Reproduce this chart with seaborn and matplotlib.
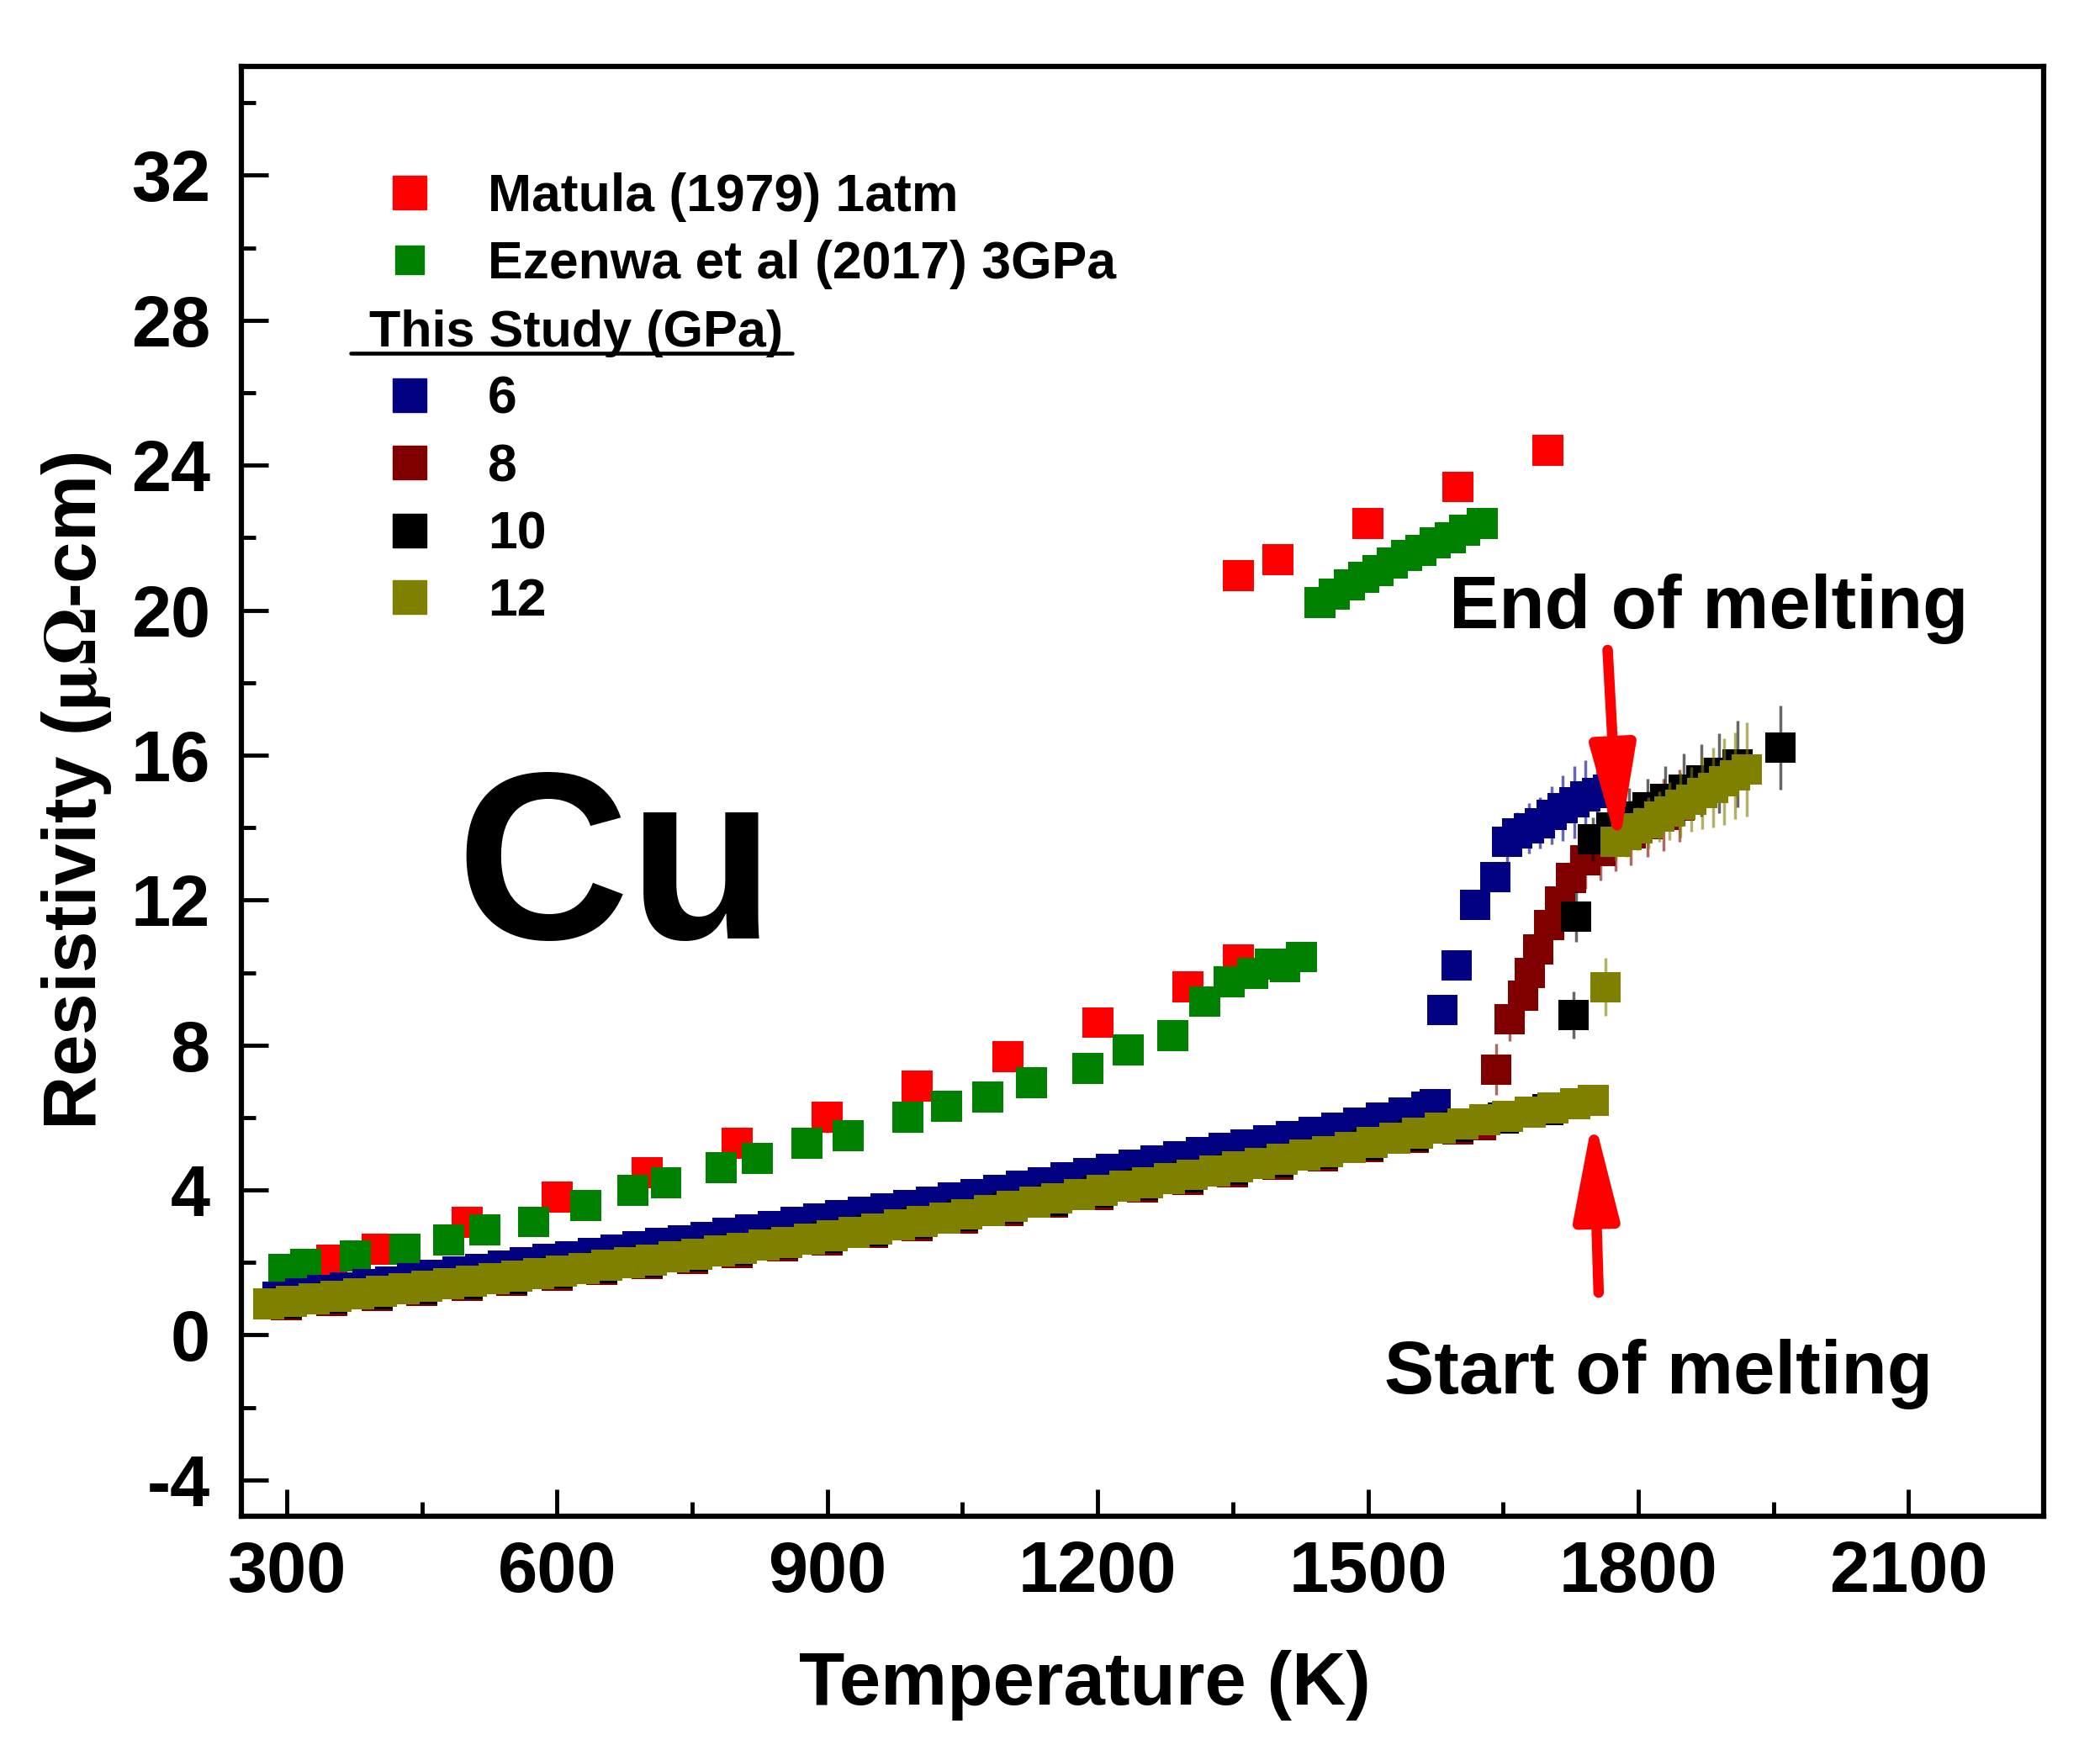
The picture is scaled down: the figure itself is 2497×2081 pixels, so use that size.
import matplotlib
matplotlib.use("Agg")
import matplotlib.pyplot as plt
from matplotlib.colors import to_rgba
from matplotlib.ticker import AutoMinorLocator
import seaborn as sns

# ---------------- data ----------------
# Matula (1979), 1 atm
matula_T_sol = [300, 350, 400, 500, 600, 700, 800, 900, 1000, 1100, 1200, 1300, 1356]
matula_r_sol = [1.80, 2.07, 2.37, 3.10, 3.80, 4.47, 5.28, 6.02, 6.87, 7.68, 8.62, 9.60, 10.36]
matula_T_liq = [1356, 1400, 1500, 1600, 1700]
matula_r_liq = [20.96, 21.40, 22.40, 23.40, 24.40]

# Ezenwa et al (2017), 3 GPa
ezenwa_T_sol = [297, 321, 376, 431, 480, 520, 574, 632, 684, 721, 782, 822, 877, 923,
                989, 1032, 1078, 1127, 1189, 1234, 1283, 1319, 1346, 1372, 1392, 1408, 1426]
ezenwa_r_sol = [1.81, 1.96, 2.18, 2.37, 2.62, 2.90, 3.12, 3.58, 4.00, 4.21, 4.62, 4.88, 5.28, 5.50,
                6.02, 6.31, 6.57, 6.97, 7.35, 7.86, 8.25, 9.20, 9.74, 9.97, 10.24, 10.17, 10.43]
ezenwa_T_liq = [1447, 1463, 1479, 1495, 1511, 1527, 1543, 1559, 1575, 1591, 1607, 1627]
ezenwa_r_liq = [20.20, 20.45, 20.70, 20.90, 21.10, 21.30, 21.50, 21.65, 21.85, 22.00, 22.20, 22.40]

# This study, 6 GPa
p6_T_sol = [290, 315, 340, 365, 390, 415, 440, 465, 490, 515, 540, 565, 590, 615, 640, 665, 690,
            715, 740, 765, 790, 815, 840, 865, 890, 915, 940, 965, 990, 1015, 1040, 1065, 1090,
            1115, 1140, 1165, 1190, 1215, 1240, 1265, 1290, 1315, 1340, 1365, 1390, 1415, 1440,
            1465, 1490, 1515, 1540, 1565, 1575]
p6_r_sol = [1.05, 1.13, 1.22, 1.30, 1.39, 1.47, 1.56, 1.64, 1.73, 1.82, 1.90, 1.99, 2.08, 2.16,
            2.25, 2.34, 2.43, 2.52, 2.61, 2.70, 2.80, 2.90, 3.00, 3.10, 3.20, 3.29, 3.38, 3.47,
            3.57, 3.67, 3.78, 3.88, 3.99, 4.10, 4.21, 4.33, 4.45, 4.57, 4.69, 4.81, 4.92, 5.03,
            5.14, 5.25, 5.36, 5.47, 5.59, 5.71, 5.84, 5.98, 6.13, 6.30, 6.36]
p6_T_liq = [1583, 1598, 1619, 1641, 1654, 1666, 1679, 1691, 1704, 1716, 1729, 1741, 1754, 1766]
p6_r_liq = [8.97, 10.20, 11.86, 12.63, 13.60, 13.83, 13.98, 14.13, 14.34, 14.54, 14.70, 14.86, 14.96, 15.05]
p6_e_liq = [0.2, 0.2, 0.3, 0.4, 0.6, 0.6, 0.7, 0.7, 0.8, 0.9, 1.0, 1.0, 1.1, 1.1]

# This study, 8 GPa
p8_T_sol = [300, 350, 400, 450, 500, 550, 600, 650, 700, 750, 800, 850, 900, 950, 1000, 1050,
            1100, 1150, 1200, 1250, 1300, 1350, 1400, 1450, 1500, 1550, 1600, 1625]
p8_r_sol = [0.83, 0.96, 1.10, 1.23, 1.37, 1.51, 1.65, 1.80, 1.96, 2.12, 2.28, 2.45, 2.63, 2.82,
            3.02, 3.22, 3.44, 3.66, 3.88, 4.09, 4.30, 4.51, 4.72, 4.94, 5.19, 5.45, 5.69, 5.80]
p8_T_liq = [1642, 1657, 1672, 1680, 1689, 1701, 1713, 1725, 1741, 1758, 1775, 1792, 1810, 1828, 1846]
p8_r_liq = [7.33, 8.72, 9.36, 10.00, 10.65, 11.30, 11.95, 12.60, 13.10, 13.35, 13.60, 13.85, 14.10, 14.35, 14.60]
p8_e_liq = [0.7, 0.6, 0.6, 0.6, 0.6, 0.7, 0.7, 0.7, 0.8, 0.8, 0.8, 0.9, 0.9, 1.0, 1.0]

# This study, 10 GPa
p10_T_sol = [300, 350, 400, 450, 500, 550, 600, 650, 700, 750, 800, 850, 900, 950, 1000, 1050,
             1100, 1150, 1200, 1250, 1300, 1350, 1400, 1450, 1500, 1550, 1600, 1650, 1700]
p10_r_sol = [0.88, 1.01, 1.14, 1.28, 1.42, 1.56, 1.71, 1.86, 2.02, 2.18, 2.35, 2.52, 2.70, 2.88,
             3.08, 3.29, 3.50, 3.72, 3.94, 4.15, 4.36, 4.57, 4.78, 5.00, 5.24, 5.50, 5.75, 5.98, 6.22]
p10_T_liq = [1728, 1731, 1750, 1770, 1790, 1810, 1830, 1850, 1870, 1890, 1910, 1958]
p10_r_liq = [8.83, 11.55, 13.67, 14.00, 14.30, 14.55, 14.80, 15.05, 15.30, 15.50, 15.75, 16.20]
p10_e_liq = [0.65, 0.7, 0.6, 0.7, 0.8, 0.8, 0.9, 1.0, 1.0, 1.1, 1.2, 1.16]

# This study, 12 GPa
p12_T_sol = [280, 305, 330, 355, 380, 405, 430, 455, 480, 505, 530, 555, 580, 605, 630, 655, 680,
             705, 730, 755, 780, 805, 830, 855, 880, 905, 930, 955, 980, 1005, 1030, 1055, 1080,
             1105, 1130, 1155, 1180, 1205, 1230, 1255, 1280, 1305, 1330, 1355, 1380, 1405, 1430,
             1455, 1480, 1505, 1530, 1555, 1580, 1605, 1630, 1655, 1680, 1705, 1730, 1750]
p12_r_sol = [0.86, 0.93, 0.99, 1.06, 1.13, 1.20, 1.27, 1.34, 1.41, 1.48, 1.55, 1.62, 1.69, 1.77,
             1.84, 1.92, 2.00, 2.07, 2.15, 2.23, 2.31, 2.40, 2.48, 2.56, 2.64, 2.73, 2.83, 2.93,
             3.03, 3.13, 3.23, 3.33, 3.44, 3.55, 3.66, 3.77, 3.88, 3.99, 4.10, 4.20, 4.31, 4.42,
             4.52, 4.63, 4.74, 4.85, 4.96, 5.06, 5.18, 5.31, 5.44, 5.57, 5.70, 5.82, 5.93, 6.04,
             6.15, 6.26, 6.38, 6.48]
p12_T_liq = [1764, 1775, 1787, 1799, 1811, 1823, 1835, 1847, 1859, 1871, 1883, 1895, 1907, 1920]
p12_r_liq = [9.60, 13.60, 13.80, 13.97, 14.13, 14.30, 14.45, 14.62, 14.78, 14.95, 15.10, 15.27, 15.43, 15.60]
p12_e_liq = [0.8, 0.5, 0.6, 0.6, 0.7, 0.7, 0.8, 0.9, 0.9, 1.0, 1.1, 1.2, 1.2, 1.3]

x_ticks = [300, 600, 900, 1200, 1500, 1800, 2100]
y_ticks = [-4, 0, 4, 8, 12, 16, 20, 24, 28, 32]

c_matula = "#FF0000"
c_ezenwa = "#008000"
c_p6 = "#000080"
c_p8 = "#800000"
c_p10 = "#000000"
c_p12 = "#808000"

# ---------------- style ----------------
sns.set_theme(style="ticks")
plt.rcParams["font.family"] = ["Liberation Sans", "DejaVu Sans"]
plt.rcParams["font.weight"] = "bold"
plt.rcParams["mathtext.fontset"] = "stix"
plt.rcParams["axes.unicode_minus"] = False
plt.rcParams["text.color"] = "black"
plt.rcParams["axes.labelcolor"] = "black"
plt.rcParams["xtick.color"] = "black"
plt.rcParams["ytick.color"] = "black"

fig = plt.figure(figsize=(24.97, 20.81), dpi=100)
ax = fig.add_axes([0.1151, 0.1336, 0.8581, 0.8284])

MS = 26.6  # square side in points


def squares(T, r, color, z):
    sns.scatterplot(x=T, y=r, marker="s", s=MS ** 2, color=color, edgecolor="none",
                    linewidth=0, ax=ax, legend=False, zorder=z)


def squares_err(T, r, e, color, z):
    ax.errorbar(T, r, yerr=e, fmt="s", ms=MS, mfc=color, mec=color, mew=0,
                ecolor=to_rgba(color, 0.6), elinewidth=2.5, capsize=12, capthick=2.5,
                zorder=z)


squares(matula_T_sol, matula_r_sol, c_matula, 3)
squares(matula_T_liq, matula_r_liq, c_matula, 3)
squares(ezenwa_T_sol, ezenwa_r_sol, c_ezenwa, 4)
squares(ezenwa_T_liq, ezenwa_r_liq, c_ezenwa, 4)

squares(p6_T_sol, p6_r_sol, c_p6, 5)
squares_err(p6_T_liq, p6_r_liq, p6_e_liq, c_p6, 5)
squares(p8_T_sol, p8_r_sol, c_p8, 6)
squares_err(p8_T_liq, p8_r_liq, p8_e_liq, c_p8, 6)
squares(p10_T_sol, p10_r_sol, c_p10, 7)
squares_err(p10_T_liq, p10_r_liq, p10_e_liq, c_p10, 7)
squares(p12_T_sol, p12_r_sol, c_p12, 8)
squares_err(p12_T_liq, p12_r_liq, p12_e_liq, c_p12, 8)

# ---------------- axes ----------------
ax.set_xlim(250, 2250)
ax.set_ylim(-5, 35)
ax.set_xticks(x_ticks)
ax.set_yticks(y_ticks)
ax.xaxis.set_minor_locator(AutoMinorLocator(2))
ax.yaxis.set_minor_locator(AutoMinorLocator(2))
ax.tick_params(which="major", direction="in", length=23, width=3.5, labelsize=61,
               top=False, right=False, color="black", labelcolor="black")
ax.tick_params(which="minor", direction="in", length=12, width=3.5, top=False, right=False,
               color="black")
ax.tick_params(axis="x", which="major", pad=20)
ax.tick_params(axis="y", which="major", pad=27)
for s in ax.spines.values():
    s.set_linewidth(4.5)
    s.set_color("black")
    s.set_visible(True)

ax.set_xlabel("Temperature (K)", fontsize=64, fontweight="bold", color="black")
ax.xaxis.set_label_coords(0.468, -0.092)
ax.set_ylabel(r"Resistivity ($\mathrm{\mu\Omega}$-cm)", fontsize=64, fontweight="bold",
              color="black")
ax.yaxis.set_label_coords(-0.071, 0.5)

# ---------------- annotations ----------------
ax.text(488, 10.95, "Cu", fontsize=205, fontweight="bold", ha="left", va="baseline")
ax.text(1590, 19.5, "End of melting", fontsize=64, fontweight="bold", ha="left", va="baseline")
ax.text(1518, -1.62, "Start of melting", fontsize=64, fontweight="bold", ha="left", va="baseline")

arrow = dict(arrowstyle="-|>,head_length=7.2,head_width=1.6", mutation_scale=10,
             color="#FF0000", lw=9, shrinkA=0, shrinkB=0)
ax.annotate("", xy=(1778, 13.4), xytext=(1766, 18.9), arrowprops=arrow, zorder=10)
ax.annotate("", xy=(1750, 6.05), xytext=(1756, 1.17), arrowprops=arrow, zorder=10)

# ---------------- legend (drawn by hand, axes fraction) ----------------
mk_x, tx_x = 0.0933, 0.1365
top_entries = [("Matula (1979) 1atm", c_matula, 0.913, 29),
               ("Ezenwa et al (2017) 3GPa", c_ezenwa, 0.8666, 25)]
study_entries = [("6", c_p6, 0.7734), ("8", c_p8, 0.7268),
                 ("10", c_p10, 0.680), ("12", c_p12, 0.6343)]
for lab, col, yy, ms in top_entries:
    ax.plot([mk_x], [yy], marker="s", ms=ms, color=col, ls="", transform=ax.transAxes,
            clip_on=False, zorder=12)
    ax.text(tx_x, yy - 0.0128, lab, transform=ax.transAxes, fontsize=45,
            fontweight="bold", va="baseline", ha="left")
ax.text(0.0707, 0.8068, "This Study (GPa)", transform=ax.transAxes, fontsize=44,
        fontweight="bold", va="baseline", ha="left")
ax.plot([0.0607, 0.3055], [0.8022, 0.8022], color="black", lw=3.3, transform=ax.transAxes,
        clip_on=False)
for lab, col, yy in study_entries:
    ax.plot([mk_x], [yy], marker="s", ms=29, color=col, ls="", transform=ax.transAxes,
            clip_on=False, zorder=12)
    ax.text(tx_x, yy - 0.0128, lab, transform=ax.transAxes, fontsize=45,
            fontweight="bold", va="baseline", ha="left")

fig.savefig("out.png", dpi=100, facecolor="white")
